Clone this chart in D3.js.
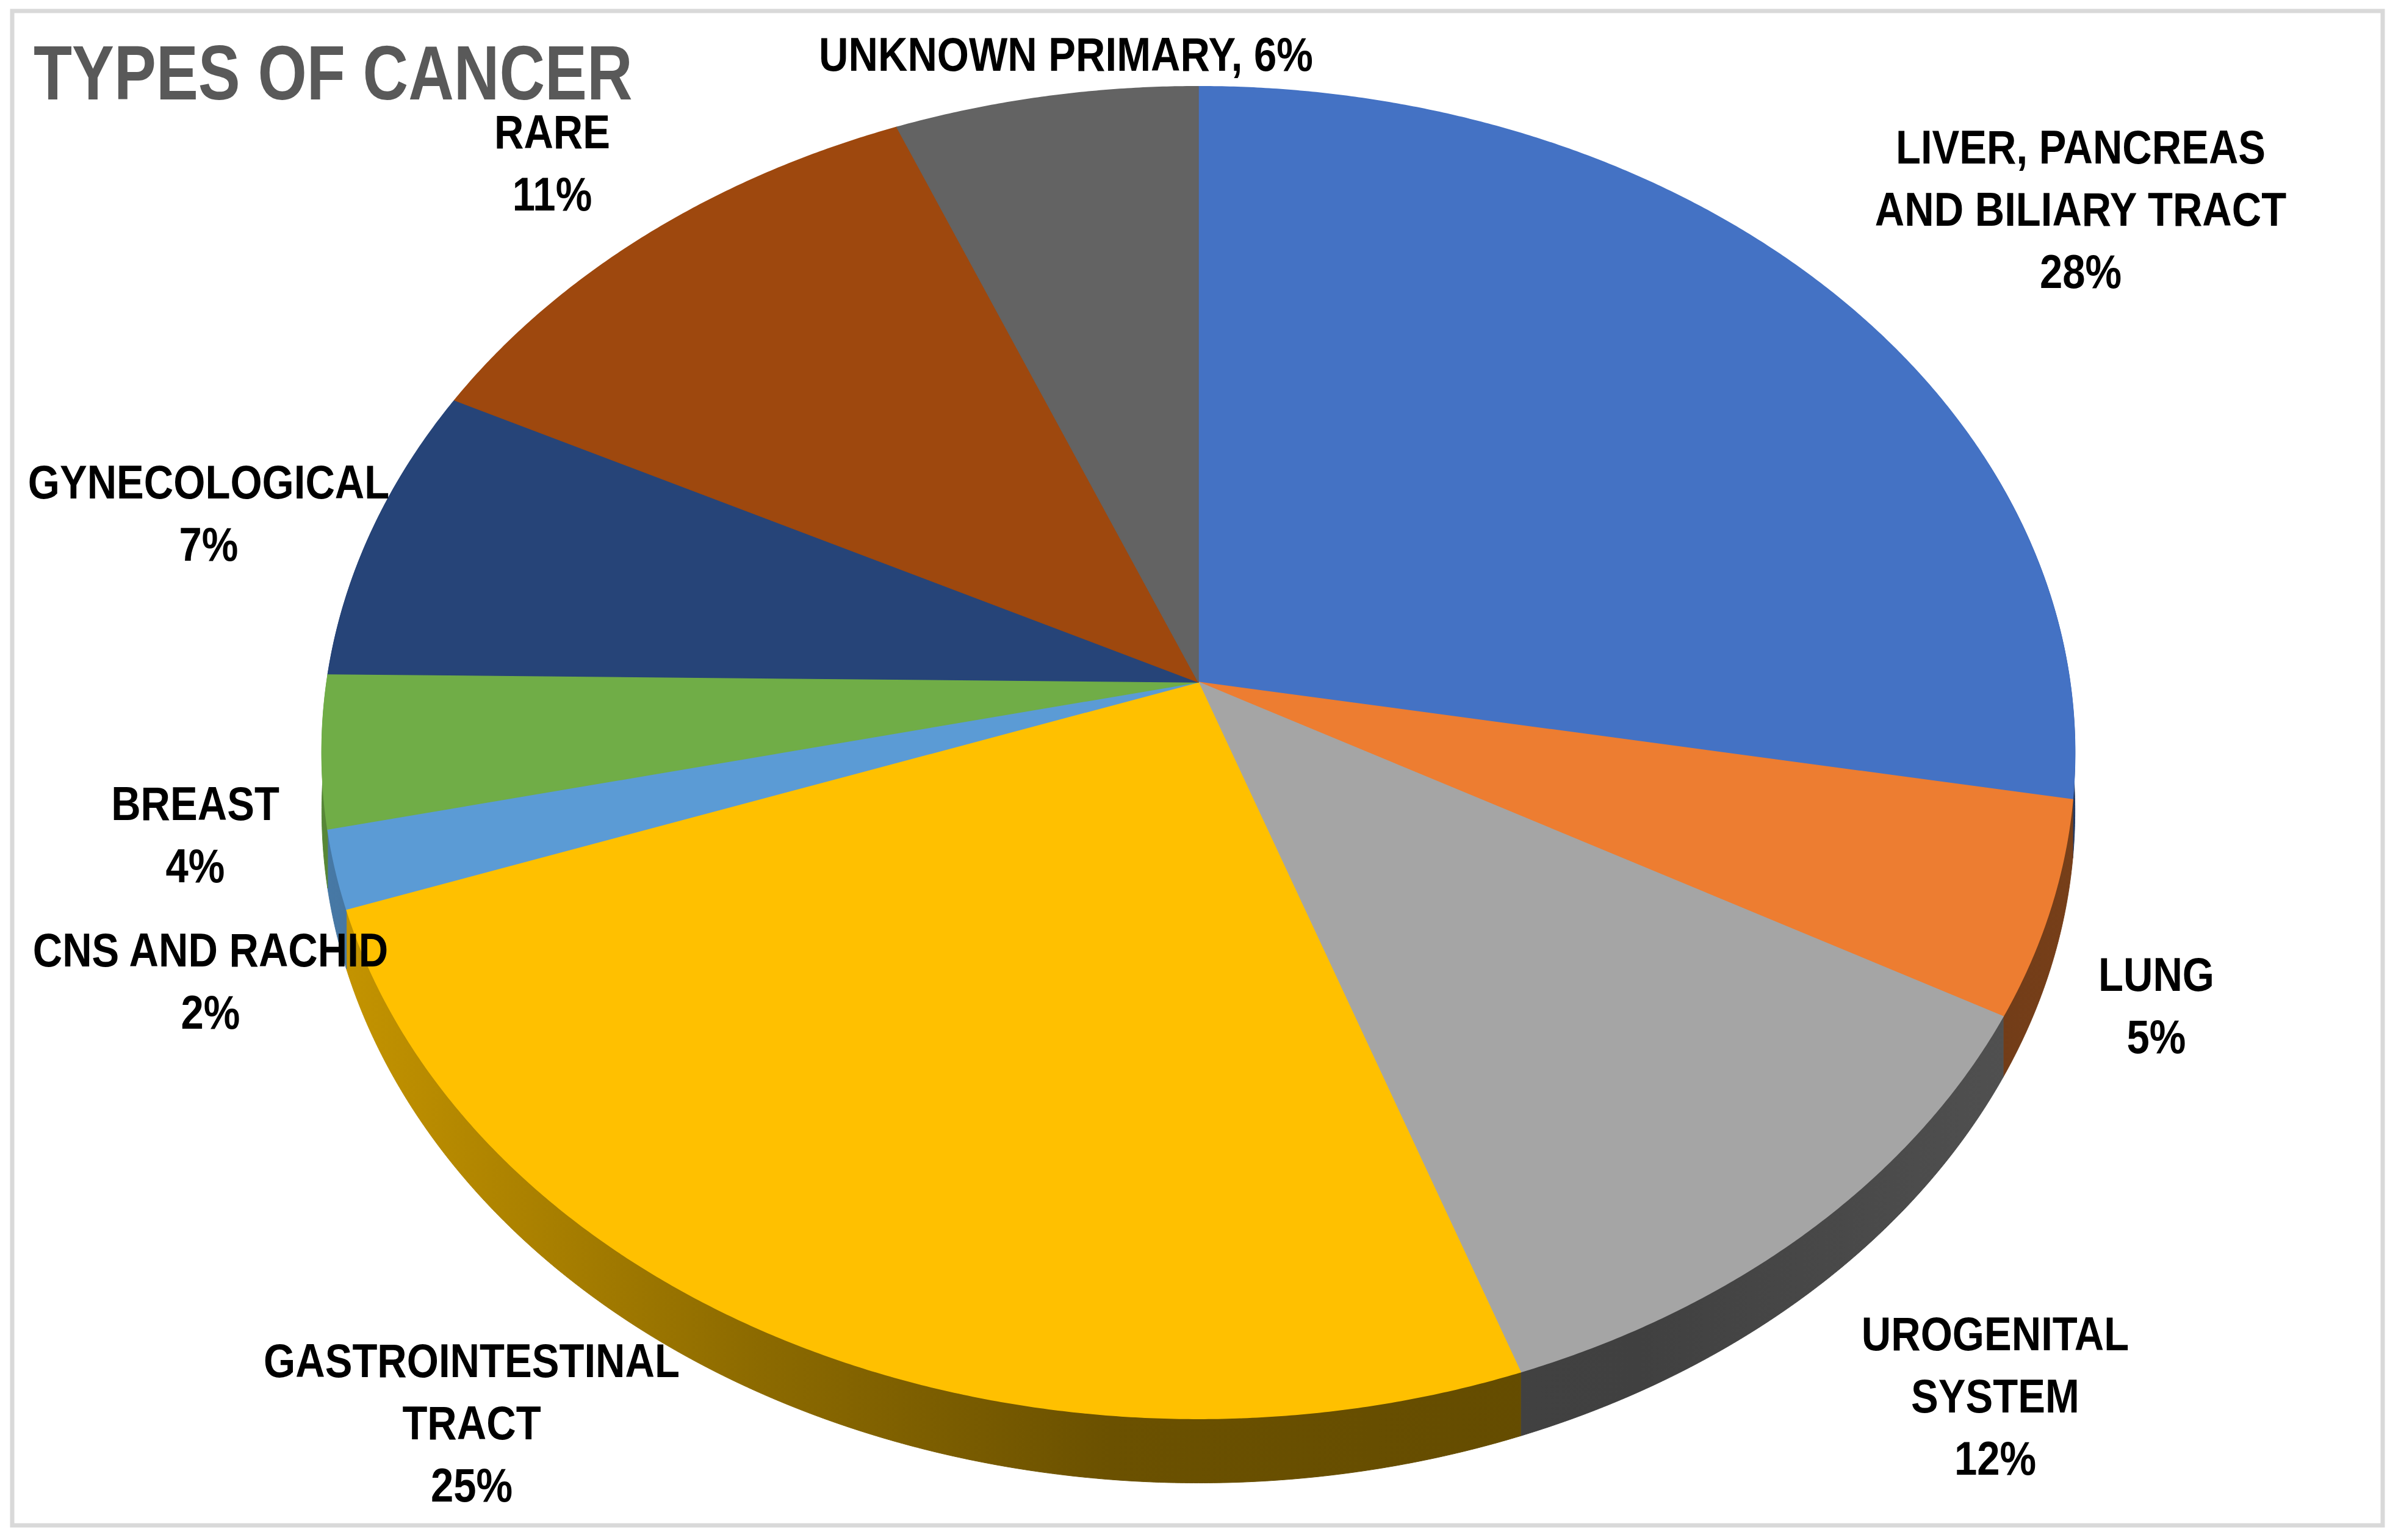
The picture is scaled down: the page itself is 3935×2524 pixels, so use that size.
<!DOCTYPE html>
<html>
<head>
<meta charset="utf-8">
<script src="https://d3js.org/d3.v7.min.js"></script>
<style>
  body { margin: 0; background: #fff; }
  .lbl { font-family: "Liberation Sans", Arial, sans-serif; font-weight: bold; fill: #000; }
</style>
</head>
<body>
<div id="chart"></div>
<script>
// slice data, clockwise from 12 o'clock
var categories = ["LIVER, PANCREAS AND BILIARY TRACT", "LUNG", "UROGENITAL SYSTEM",
                  "GASTROINTESTINAL TRACT", "CNS AND RACHID", "BREAST",
                  "GYNECOLOGICAL", "RARE", "UNKNOWN PRIMARY"];
var values = [27.8, 5.2, 11.6, 25.0, 1.9, 3.7, 7.2, 11.4, 6.2];
var pctLabels = ["28%", "5%", "12%", "25%", "2%", "4%", "7%", "11%", "6%"];
var labelLines = [
  ["LIVER, PANCREAS", "AND BILIARY TRACT", "28%"],
  ["LUNG", "5%"],
  ["UROGENITAL", "SYSTEM", "12%"],
  ["GASTROINTESTINAL", "TRACT", "25%"],
  ["CNS AND RACHID", "2%"],
  ["BREAST", "4%"],
  ["GYNECOLOGICAL", "7%"],
  ["RARE", "11%"],
  ["UNKNOWN PRIMARY, 6%"]
];

var colors = ["#4472c4", "#ed7d31", "#a5a5a5", "#ffc000", "#5b9bd5",
              "#70ad47", "#264478", "#9e480e", "#636363"];

// label anchors (centre x, first baseline)
var labelPos = [[3410, 268], [3534, 1624], [3270, 2213], [773, 2257],
                [345, 1584], [320, 1344], [342, 817], [905, 243], [1747, 116]];

var width = 3935, height = 2524;
var narrow = 0.86; // no condensed face installed, squeeze horizontally

var svg = d3.select("#chart")
  .append("svg")
    .attr("width", width)
    .attr("height", height);

svg.append("rect")
    .attr("x", 20).attr("y", 18)
    .attr("width", 3885).attr("height", 2482)
    .attr("fill", "#fff")
    .attr("stroke", "#d9d9d9")
    .attr("stroke-width", 7);

// perspective projection of the tilted disc
var cx = 1964, cy = 1118,
    K = 13510, Ks = 10209, D = 9.457, TH = 891;

function proj(a, r, drop) {
  var den = D + r * Math.cos(a);
  return [cx + K * r * Math.sin(a) / den,
          cy - Ks * r * Math.cos(a) / den + drop / den];
}

function sample(a0, a1) {
  var n = Math.max(2, Math.ceil((a1 - a0) / 0.005)), out = [];
  for (var i = 0; i <= n; i++) out.push(a0 + (a1 - a0) * i / n);
  return out;
}

var pie = d3.pie().sort(null).value(function(d) { return d; });
var arcs = pie(values);
var line = d3.line();

// side shading gradients
var defs = svg.append("defs");
var shade = [[0, 0.78], [0.25, 0.55], [0.45, 0.42], [0.75, 0.39], [1, 0.5]];
colors.forEach(function(c, i) {
  var g = defs.append("linearGradient")
      .attr("id", "side" + i)
      .attr("gradientUnits", "userSpaceOnUse")
      .attr("x1", cx - 1440).attr("x2", cx + 1440)
      .attr("y1", 0).attr("y2", 0);
  var rgb = d3.rgb(c);
  shade.forEach(function(s) {
    g.append("stop")
      .attr("offset", s[0])
      .attr("stop-color", d3.rgb(rgb.r * s[1], rgb.g * s[1], rgb.b * s[1]).formatHex());
  });
});

var lo = Math.PI / 2 - 0.35, hi = 3 * Math.PI / 2 + 0.35;

svg.append("g").selectAll("path")
    .data(arcs.filter(function(d) { return d.endAngle > lo && d.startAngle < hi; }))
  .enter().append("path")
    .attr("fill", function(d) { return "url(#side" + d.index + ")"; })
    .attr("stroke", function(d) { return "url(#side" + d.index + ")"; })
    .attr("stroke-width", 1)
    .attr("d", function(d) {
      var angs = sample(Math.max(d.startAngle, lo), Math.min(d.endAngle, hi));
      var top = angs.map(function(a) { return proj(a, 1, 0); });
      var bot = angs.slice().reverse().map(function(a) { return proj(a, 1, TH); });
      return line(top.concat(bot)) + "Z";
    });

svg.append("g").selectAll("path")
    .data(arcs)
  .enter().append("path")
    .attr("fill", function(d) { return colors[d.index]; })
    .attr("stroke", function(d) { return colors[d.index]; })
    .attr("stroke-width", 1.5)
    .attr("stroke-linejoin", "round")
    .attr("d", function(d) {
      var pts = [[cx, cy]].concat(sample(d.startAngle, d.endAngle).map(function(a) { return proj(a, 1, 0); }));
      return line(pts) + "Z";
    });

// data labels
var lab = svg.append("g").selectAll("text")
    .data(arcs)
  .enter().append("text")
    .attr("class", "lbl")
    .attr("text-anchor", "middle")
    .attr("font-size", 78)
    .attr("transform", function(d) {
      var p = labelPos[d.index];
      return "translate(" + p[0] + "," + p[1] + ") scale(" + narrow + ",1)";
    });

lab.selectAll("tspan")
    .data(function(d) { return labelLines[d.index]; })
  .enter().append("tspan")
    .attr("x", 0)
    .attr("dy", function(d, i) { return i ? 102 : 0; })
    .text(function(d) { return d; });

svg.append("text")
    .attr("class", "lbl")
    .attr("transform", "translate(55,163) scale(0.82,1)")
    .attr("font-size", 126)
    .style("fill", "#595959")
    .text("TYPES OF CANCER");
</script>
</body>
</html>
